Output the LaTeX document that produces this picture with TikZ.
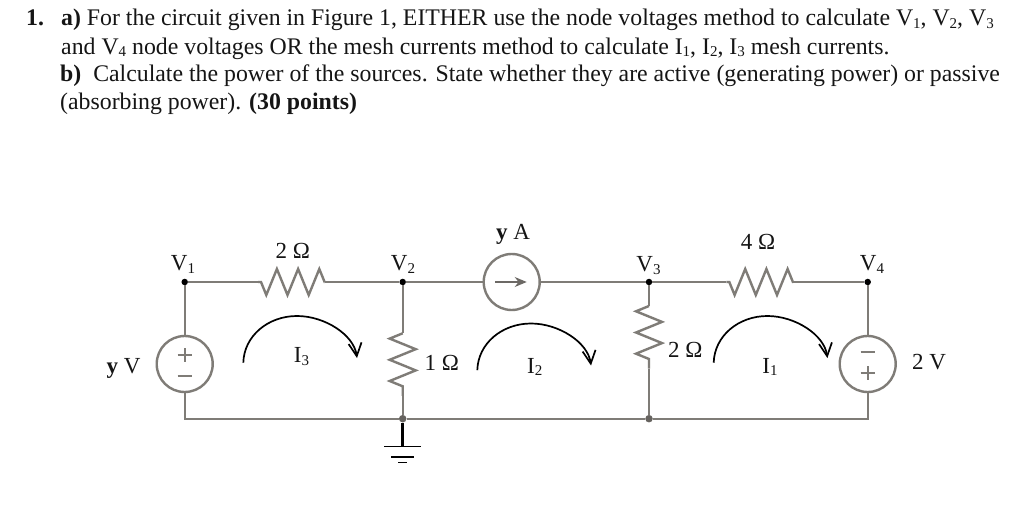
\documentclass[tikz,border=0pt]{standalone}
\usepackage{fontspec}
\setmainfont{Liberation Serif}
\usetikzlibrary{positioning,calc}
\usetikzlibrary{arrows.meta}
\usetikzlibrary{decorations.pathmorphing}
\definecolor{wiregray}{HTML}{7F7C77}
\definecolor{inkblack}{HTML}{151515}
\newcommand{\low}[1]{\raisebox{-0.22ex}{\fontsize{15}{15}\selectfont #1}}
\tikzset{
  wire/.style={draw=wiregray,line width=2.4pt,line join=miter},
  resist/.style={wire,decorate,decoration={zigzag,mirror,amplitude=13pt,segment length=21.2pt,pre length=#1,post length=0pt}},
  dot/.style={circle,fill=black,inner sep=0pt,minimum size=6.5pt},
  joint/.style={circle,fill=wiregray!80!black,inner sep=0pt,minimum size=7.5pt},
  source/.style={circle,wire,inner sep=0pt,minimum size=56pt},
  sign/.style={draw=wiregray,line width=2pt},
  lbl/.style={anchor=base,inner sep=0pt,text=inkblack,font=\fontsize{23}{23}\selectfont},
  line/.style={anchor=base west,inner sep=0pt,text=inkblack,font=\fontsize{23.8}{28}\selectfont},
  meshturn/.style={line width=1.7pt,black,-{Straight Barb[length=13pt,width=13pt,line width=1.7pt]}},
}
\begin{document}
\begin{tikzpicture}[x=1pt,y=-1pt,on grid]
  \useasboundingbox[fill=white] (0,0) rectangle (1024,518);

  % problem text
  \node[line] (t0) at (26,26) {\bfseries 1.};
  \node[line] (t1) at (61,26) {\textbf{a)} For the circuit given in Figure 1, EITHER use the node voltages method to calculate V\low{1}, V\low{2}, V\low{3}};
  \node[line] (t2) at (61,54.5) {and V\low{4} node voltages OR the mesh currents method to calculate I\low{1}, I\low{2}, I\low{3} mesh currents.};
  \node[line] (t3) at (60,82) {\textbf{b)}\ \ Calculate the power of the sources. State whether they are active (generating power) or passive};
  \node[line] (t4) at (60,110) {(absorbing power). \textbf{(30 points)}};

  % top nodes
  \node[dot]                    (v1) at (184.7,282) {};
  \node[dot,right=218pt of v1]  (v2) {};
  \node[dot,right=246.3pt of v2] (v3) {};
  \node[dot,right=218.7pt of v3] (v4) {};

  % bottom rail
  \node[joint,below=136.7pt of v2] (g2) {};
  \node[joint,below=136.7pt of v3] (g3) {};
  \coordinate[below=136.7pt of v1] (c1);
  \coordinate[below=136.7pt of v4] (c4);

  % sources
  \node[source,below=82pt of v1]    (s1) {};
  \node[source,below=82pt of v4]    (s4) {};
  \node[source,right=109pt of v2]   (s2) {};
  \coordinate[left=16.7pt of s2]    (a0);
  \coordinate[right=15pt of s2]     (a1);
  \draw[draw=wiregray!85!black,line width=1.4pt,-{Stealth[length=12pt,width=10pt]}] (a0) -- (a1);

  % polarity signs
  \coordinate[above=9pt of s1]      (s1p);
  \coordinate[below=11.7pt of s1]   (s1m);
  \coordinate[above=12.3pt of s4]   (s4m);
  \coordinate[below=9.3pt of s4]    (s4p);
  \draw[sign] ($(s1p)+(-7,0)$) -- ($(s1p)+(7,0)$) ($(s1p)+(0,-7)$) -- ($(s1p)+(0,7)$);
  \draw[sign] ($(s4p)+(-7,0)$) -- ($(s4p)+(7,0)$) ($(s4p)+(0,-7)$) -- ($(s4p)+(0,7)$);
  \draw[sign] ($(s1m)+(-7,0)$) -- ($(s1m)+(7,0)$);
  \draw[sign] ($(s4m)+(-7,0)$) -- ($(s4m)+(7,0)$);

  % resistor ends
  \coordinate[right=73.3pt of v1]  (r1a);
  \coordinate[right=66.7pt of r1a] (r1b);
  \coordinate[below=51.3pt of v2]  (r2a);
  \coordinate[below=62.5pt of r2a] (r2b);
  \coordinate[below=24pt of v3]    (r3a);
  \coordinate[below=62.5pt of r3a] (r3b);
  \coordinate[right=77.3pt of v3]  (r4a);
  \coordinate[right=66.7pt of r4a] (r4b);
  \draw[resist=3pt] (r1a) -- (r1b);
  \draw[resist=3pt] (r4a) -- (r4b);
  \draw[resist=0pt] (r2a) -- (r2b);
  \draw[resist=0pt] (r3a) -- (r3b);

  % wires
  \draw[wire] (v1) -- (r1a) (r1b) -- (v2) -- (s2) (s2) -- (v3) -- (r4a) (r4b) -- (v4);
  \draw[wire] (v1) -- (s1) (s1) -- (c1) -- (g2) -- (g3) -- (c4) -- (s4) (s4) -- (v4);
  \draw[wire] (v2) -- (r2a) (r2b) -- (g2) (v3) -- (r3a) (r3b) -- (g3);

  % ground
  \coordinate[below=28pt of g2.center] (e0);
  \coordinate[below=10.3pt of e0] (e1);
  \coordinate[below=5.3pt of e1]  (e2);
  \draw[black,line width=2.8pt] (g2) -- (e0);
  \draw[black,line width=1.5pt] ($(e0)+(-18.3,0)$) -- ($(e0)+(18.3,0)$);
  \draw[black,line width=1.5pt] ($(e1)+(-11.7,0)$) -- ($(e1)+(11.7,0)$);
  \draw[black,line width=1.5pt] ($(e2)+(-4.5,0)$) -- ($(e2)+(4.5,0)$);

  % mesh currents
  \foreach \n/\dx/\dy in {3/0/0,2/234/7.5,1/470.4/0}{
    \draw[meshturn,shift={(\dx,\dy)}] (243.3,362.7) .. controls (244,336) and (268,316) .. (297,316)
      .. controls (325,316) and (354,335) .. (357,358);
  }

  % labels
  \node[lbl] (lv1) at (183,270.7) {V\low{1}};
  \node[lbl] (lv2) at (403,270.7) {V\low{2}};
  \node[lbl] (lv3) at (648.5,272) {V\low{3}};
  \node[lbl] (lv4) at (872,270.7) {V\low{4}};
  \node[lbl] (lr1) at (292.7,259) {2 Ω};
  \node[lbl] (lr2) at (441.7,370) {1 Ω};
  \node[lbl] (lr3) at (685.2,357.7) {2 Ω};
  \node[lbl] (lr4) at (758,250) {4 Ω};
  \node[lbl] (ls1) at (123.5,373) {\textbf{y} V};
  \node[lbl] (ls2) at (513,240) {\textbf{y} A};
  \node[lbl] (ls4) at (929,369.3) {2 V};
  \node[lbl] (li3) at (301.5,362.7) {I\low{3}};
  \node[lbl] (li2) at (534.8,373.3) {I\low{2}};
  \node[lbl] (li1) at (770,373.3) {I\low{1}};
\end{tikzpicture}
\end{document}
